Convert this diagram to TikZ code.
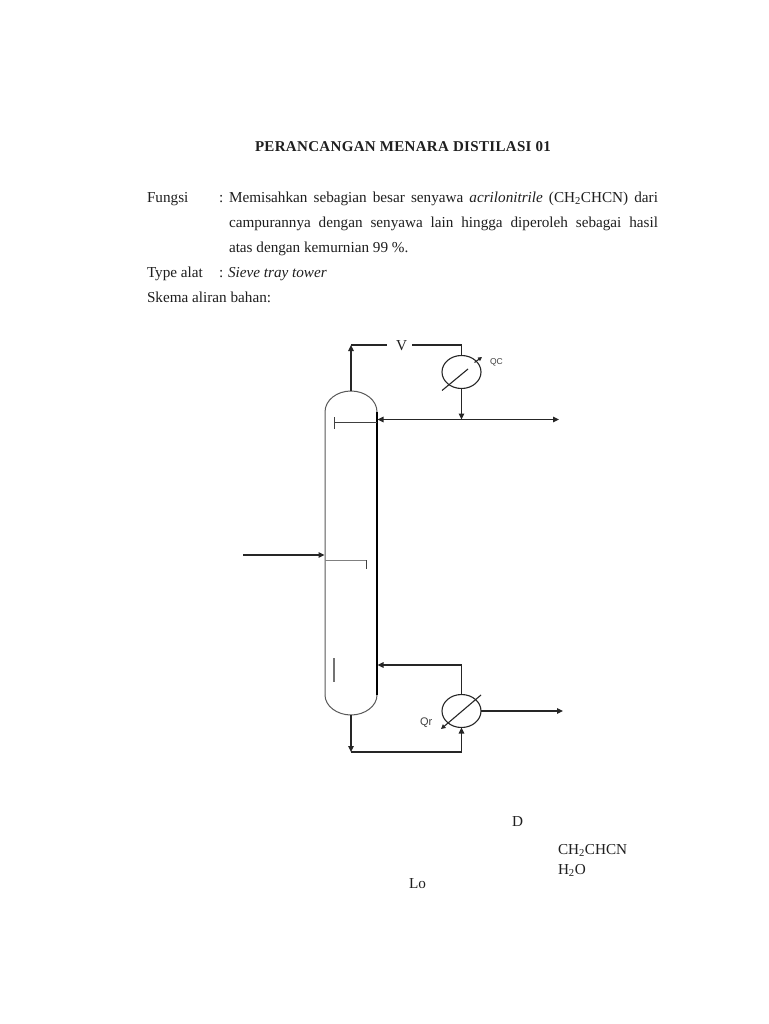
\documentclass[tikz,border=0pt]{standalone}
\usepackage{fontspec}
\setmainfont{Liberation Serif}
\newfontfamily\labelsans{Liberation Sans}
\usetikzlibrary{arrows.meta,shapes.geometric}
\tikzset{
  txt/.style={anchor=base west,inner sep=0pt,outer sep=0pt,text=black!88,font=\fontsize{15.2}{17}\selectfont},
  small/.style={anchor=base west,inner sep=0pt,outer sep=0pt,text=black!75,font=\labelsans\fontsize{8.5}{10}\selectfont},
  flow/.style={line width=1.1pt,draw=black!85},
  arrow/.style={flow,-{Triangle[length=6pt,width=5.5pt]}},
  wall/.style={line width=1pt,draw=black!65},
  wallright/.style={line width=1.7pt,draw=black},
  tray/.style={line width=1pt,draw=black!75},
  exch/.style={ellipse,draw=black!85,line width=1.1pt,minimum width=39pt,minimum height=33pt,inner sep=0pt,outer sep=0pt}
}
\newcommand{\justline}[1]{\makebox[429pt][s]{#1}}
\begin{document}
\begin{tikzpicture}[x=1pt,y=-1pt]
\useasboundingbox[fill=white] (0,0) rectangle (768,1024);
% text
\node[txt,font=\bfseries\fontsize{15}{17}\selectfont\addfontfeature{LetterSpace=2.2}] (title) at (255,151.5) {PERANCANGAN MENARA DISTILASI 01};
\node[txt] (fungsi) at (147,202.5) {Fungsi};
\node[txt] (c1) at (219,202.5) {:};
\node[txt] (l1) at (229,202.5) {\justline{Memisahkan sebagian besar senyawa \textit{acrilonitrile} (CH\textsubscript{2}CHCN) dari}};
\node[txt] (l2) at (229,227) {\justline{campurannya dengan senyawa lain hingga diperoleh sebagai hasil}};
\node[txt] (l3) at (229,252) {atas dengan kemurnian 99 \%.};
\node[txt] (type) at (147,277) {Type alat};
\node[txt] (c2) at (219,277) {:};
\node[txt] (sieve) at (228,277) {\textit{Sieve tray tower}};
\node[txt] (skema) at (147,302.5) {Skema aliran bahan:};
\node[txt] (dlab) at (512,826) {D};
\node[txt] (ch) at (558,854) {CH\textsubscript{2}CHCN};
\node[txt] (hho) at (558,874) {H\textsubscript{2}O};
\node[txt] (lo) at (409,888) {Lo};
\node[txt,anchor=base] (vlab) at (401.5,350) {V};
\node[small] (qc) at (490,364.5) {QC};
\node[small,font=\labelsans\fontsize{11}{12}\selectfont] (qr) at (420,725) {Qr};
% column
\coordinate (tl) at (325,412);
\coordinate (tr) at (377,412);
\coordinate (bl) at (325,695);
\coordinate (br) at (377,695);
\coordinate (ctop) at (351,391);
\coordinate (cbot) at (351,715);
\draw[wall] (bl) -- (tl) .. controls (325,400) and (337,391) .. (ctop) .. controls (365,391) and (377,400) .. (tr);
\draw[wall] (bl) .. controls (325,706) and (337,715) .. (cbot) .. controls (365,715) and (377,706) .. (br);
\draw[wallright] (tr) -- (br);
% exchangers
\node[exch] (cond) at (461.5,372) {};
\node[exch] (reb) at (461.5,711) {};
% top loop
\coordinate (vc) at (351,345);
\coordinate (vr) at (461.5,345);
\coordinate (vgap1) at (387,345);
\coordinate (vgap2) at (412,345);
\coordinate (refluxin) at (377.5,419.5);
\coordinate (dist) at (559,419.5);
\coordinate (tee) at (461.5,419.5);
\draw[arrow] (ctop) -- (vc);
\draw[flow] (vc) -- (vgap1);
\draw[flow] (vgap2) -- (vr) -- (cond.north);
\draw[arrow] (cond.south) -- (tee);
\draw[arrow] (tee) -- (refluxin);
\draw[arrow] (tee) -- (dist);
% condenser diagonal
\coordinate (cd1) at (442,390.5);
\coordinate (cd2) at (468,369);
\coordinate (cd3) at (474.5,362.5);
\coordinate (cd4) at (482,357);
\draw[flow] (cd1) -- (cd2);
\draw[flow,-{Triangle[length=4pt,width=4pt]}] (cd3) -- (cd4);
% trays
\coordinate (t1a) at (334,422);
\coordinate (t1b) at (334,417);
\coordinate (t1c) at (334,429);
\coordinate (t1d) at (377,422);
\draw[tray] (t1a) -- (t1d);
\draw[tray] (t1b) -- (t1c);
\coordinate (t2a) at (325,560);
\coordinate (t2b) at (366.5,560);
\coordinate (t2c) at (366.5,569);
\draw[tray,draw=black!50] (t2a) -- (t2b);
\draw[tray] (t2b) -- (t2c);
\coordinate (t3a) at (334,658);
\coordinate (t3b) at (334,682);
\draw[tray,draw=black!55,line width=1.3pt] (t3a) -- (t3b);
% feed
\coordinate (feed) at (243,555);
\coordinate (feedin) at (324.5,555);
\draw[arrow] (feed) -- (feedin);
% bottom loop
\coordinate (bc) at (351,752);
\coordinate (br2) at (461.5,752);
\coordinate (rtop) at (461.5,665);
\coordinate (boilin) at (377.5,665);
\coordinate (bott) at (563,711);
\draw[arrow] (cbot) -- (bc);
\draw[flow] (bc) -- (br2);
\draw[arrow] (br2) -- (reb.south);
\draw[flow] (reb.north) -- (rtop);
\draw[arrow] (rtop) -- (boilin);
\draw[arrow] (reb.east) -- (bott);
% reboiler diagonal
\coordinate (rd1) at (481,695);
\coordinate (rd2) at (441,729);
\draw[flow,-{Triangle[length=4.5pt,width=4.5pt]}] (rd1) -- (rd2);
\end{tikzpicture}
\end{document}
